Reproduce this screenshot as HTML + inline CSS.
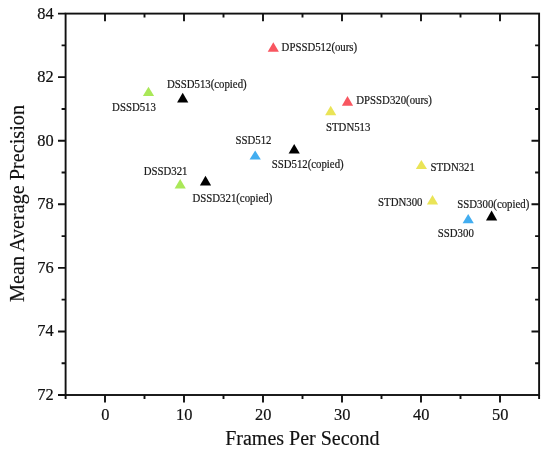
<!DOCTYPE html>
<html><head><meta charset="utf-8"><title>Mean Average Precision vs Frames Per Second</title>
<style>
html,body{margin:0;padding:0;background:#fff;}
body{width:550px;height:450px;overflow:hidden;}
svg{display:block;font-family:"Liberation Serif","Times New Roman",serif;}
.tl text{font-size:16.4px;fill:#111;stroke:#111;stroke-width:0.2px;}
.at{font-size:20px;fill:#111;stroke:#111;stroke-width:0.15px;text-anchor:middle;}
.at+.at{font-size:20.2px;}
.pl text{font-size:10.8px;fill:#1a1a1a;stroke:#1a1a1a;stroke-width:0.2px;}
</style></head>
<body>
<svg width="550" height="450" viewBox="0 0 550 450">
<rect width="550" height="450" fill="#fff"/>
<rect x="65.6" y="13.6" width="473.50" height="381.40" fill="none" stroke="#111" stroke-width="1.9" stroke-linejoin="miter"/>
<path d="M65.60 395.00V399.00M105.00 395.00V402.60M105.00 13.60V21.20M144.50 395.00V399.00M144.50 13.60V17.60M184.00 395.00V402.60M184.00 13.60V21.20M223.50 395.00V399.00M223.50 13.60V17.60M263.00 395.00V402.60M263.00 13.60V21.20M302.50 395.00V399.00M302.50 13.60V17.60M342.00 395.00V402.60M342.00 13.60V21.20M381.50 395.00V399.00M381.50 13.60V17.60M421.00 395.00V402.60M421.00 13.60V21.20M460.50 395.00V399.00M460.50 13.60V17.60M500.00 395.00V402.60M500.00 13.60V21.20M539.10 395.00V399.00M65.60 395.00H58.00M65.60 363.22H61.60M539.10 363.22H535.10M65.60 331.43H58.00M539.10 331.43H531.50M65.60 299.65H61.60M539.10 299.65H535.10M65.60 267.87H58.00M539.10 267.87H531.50M65.60 236.08H61.60M539.10 236.08H535.10M65.60 204.30H58.00M539.10 204.30H531.50M65.60 172.52H61.60M539.10 172.52H535.10M65.60 140.73H58.00M539.10 140.73H531.50M65.60 108.95H61.60M539.10 108.95H535.10M65.60 77.17H58.00M539.10 77.17H531.50M65.60 45.38H61.60M539.10 45.38H535.10M65.60 13.60H58.00" stroke="#111" stroke-width="1.9" fill="none"/>
<g class="tl"><text transform="translate(105.30 420.3) scale(1 1.07)" text-anchor="middle">0</text><text transform="translate(184.30 420.3) scale(1 1.07)" text-anchor="middle">10</text><text transform="translate(263.30 420.3) scale(1 1.07)" text-anchor="middle">20</text><text transform="translate(342.30 420.3) scale(1 1.07)" text-anchor="middle">30</text><text transform="translate(421.30 420.3) scale(1 1.07)" text-anchor="middle">40</text><text transform="translate(500.30 420.3) scale(1 1.07)" text-anchor="middle">50</text><text transform="translate(53.6 400.00) scale(1 1.07)" text-anchor="end">72</text><text transform="translate(53.6 336.43) scale(1 1.07)" text-anchor="end">74</text><text transform="translate(53.6 272.87) scale(1 1.07)" text-anchor="end">76</text><text transform="translate(53.6 209.30) scale(1 1.07)" text-anchor="end">78</text><text transform="translate(53.6 145.73) scale(1 1.07)" text-anchor="end">80</text><text transform="translate(53.6 82.17) scale(1 1.07)" text-anchor="end">82</text><text transform="translate(53.6 18.60) scale(1 1.07)" text-anchor="end">84</text></g>
<text class="at" x="302.4" y="444.5">Frames Per Second</text>
<text class="at" transform="translate(23.7 203.5) rotate(-90)" x="0" y="0">Mean Average Precision</text>
<path d="M273.30 42.30L278.90 51.80H267.70Z" fill="#f85660"/>
<path d="M148.50 86.70L154.10 96.00H142.90Z" fill="#aae858"/>
<path d="M182.70 92.80L188.30 102.50H177.10Z" fill="#000"/>
<path d="M347.50 96.10L353.10 105.80H341.90Z" fill="#f85660"/>
<path d="M330.70 105.80L336.30 115.30H325.10Z" fill="#eae457"/>
<path d="M255.20 150.40L260.80 159.60H249.60Z" fill="#42adf0"/>
<path d="M294.20 144.00L299.80 153.50H288.60Z" fill="#000"/>
<path d="M180.20 179.00L185.80 188.50H174.60Z" fill="#aae858"/>
<path d="M205.50 175.80L211.10 185.60H199.90Z" fill="#000"/>
<path d="M421.40 160.00L427.00 169.00H415.80Z" fill="#eae457"/>
<path d="M432.50 195.00L438.10 204.40H426.90Z" fill="#eae457"/>
<path d="M491.60 210.50L497.20 220.40H486.00Z" fill="#000"/>
<path d="M468.20 214.00L473.80 223.30H462.60Z" fill="#42adf0"/>
<g class="pl"><text transform="translate(281.60 51.30) scale(1 1.1)">DPSSD512(ours)</text><text transform="translate(112.10 110.50) scale(1 1.1)">DSSD513</text><text transform="translate(166.90 87.90) scale(1 1.1)">DSSD513(copied)</text><text transform="translate(356.30 104.40) scale(1 1.1)">DPSSD320(ours)</text><text transform="translate(326.00 130.80) scale(1 1.1)">STDN513</text><text transform="translate(235.50 143.60) scale(1 1.1)">SSD512</text><text transform="translate(271.70 167.60) scale(1 1.1)">SSD512(copied)</text><text transform="translate(143.70 175.30) scale(1 1.1)">DSSD321</text><text transform="translate(192.50 201.50) scale(1 1.1)">DSSD321(copied)</text><text transform="translate(430.50 171.30) scale(1 1.1)">STDN321</text><text transform="translate(378.10 205.60) scale(1 1.1)">STDN300</text><text transform="translate(457.30 207.60) scale(1 1.1)">SSD300(copied)</text><text transform="translate(437.80 236.70) scale(1 1.1)">SSD300</text></g>
</svg>
</body></html>
